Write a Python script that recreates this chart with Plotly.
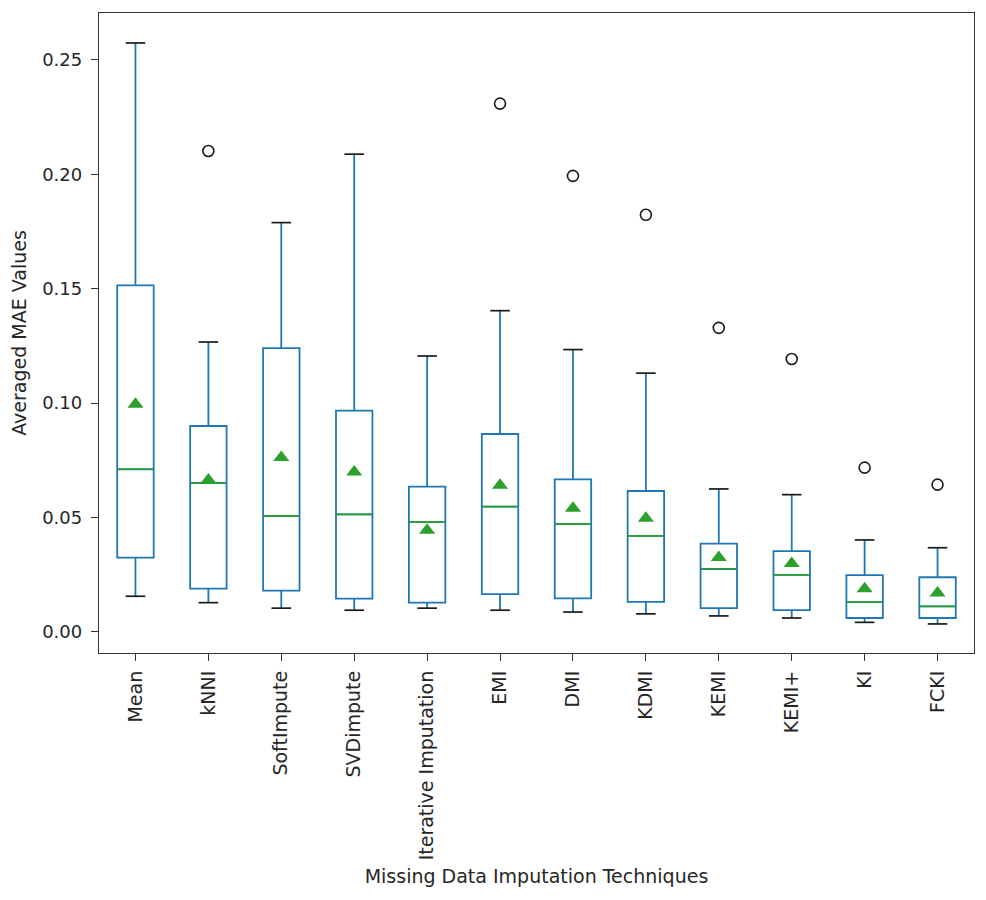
import plotly.graph_objects as go

# Estatísticas (MAE médio por técnica)
tecnicas = ["Mean", "kNNI", "SoftImpute", "SVDimpute", "Iterative Imputation",
            "EMI", "DMI", "KDMI", "KEMI", "KEMI+", "KI", "FCKI"]
limite_inferior = [0.0156, 0.0128, 0.0104, 0.0095, 0.0104, 0.0095,
                   0.0087, 0.0079, 0.0070, 0.0061, 0.0042, 0.0035]
quartil1 = [0.0325, 0.0189, 0.0181, 0.0146, 0.0128, 0.0165,
            0.0147, 0.0131, 0.0104, 0.0095, 0.0061, 0.0061]
mediana = [0.0711, 0.0651, 0.0506, 0.0514, 0.0481, 0.0548,
           0.0471, 0.0420, 0.0275, 0.0249, 0.0130, 0.0112]
quartil3 = [0.1515, 0.0900, 0.1240, 0.0967, 0.0635, 0.0865,
            0.0667, 0.0616, 0.0386, 0.0353, 0.0248, 0.0239]
limite_superior = [0.2574, 0.1267, 0.1789, 0.2088, 0.1206, 0.1404,
                   0.1234, 0.1131, 0.0625, 0.0600, 0.0402, 0.0368]
media = [0.0995, 0.0664, 0.0762, 0.0699, 0.0444, 0.0641,
         0.0541, 0.0497, 0.0325, 0.0299, 0.0189, 0.0170]
outliers_tecnica = ["kNNI", "EMI", "DMI", "KDMI", "KEMI", "KEMI+", "KI", "FCKI"]
outliers_valor = [0.2102, 0.2309, 0.1993, 0.1823, 0.1329, 0.1193, 0.0718, 0.0644]

AZUL = "#1f77b4"
VERDE = "#2ca02c"
FONTE = dict(family="DejaVu Sans", size=19, color="#262626")
FONTE_Y = dict(family="DejaVu Sans", size=18, color="#262626")

figura = go.Figure()

figura.add_trace(go.Box(
    x=tecnicas, q1=quartil1, median=mediana, q3=quartil3,
    lowerfence=limite_inferior, upperfence=limite_superior,
    width=0.5, whiskerwidth=0, boxpoints=False,
    line=dict(color=AZUL, width=1.8), fillcolor="rgba(0,0,0,0)",
    hoverinfo="skip", showlegend=False,
))

# linhas da mediana em verde, como no matplotlib
figura.add_trace(go.Scatter(
    x=tecnicas, y=mediana, mode="markers", showlegend=False,
    marker=dict(symbol="line-ew", size=25, line=dict(color=VERDE, width=1.7)),
))

# tampas dos bigodes em preto
figura.add_trace(go.Scatter(
    x=tecnicas + tecnicas, y=limite_inferior + limite_superior,
    mode="markers", showlegend=False,
    marker=dict(symbol="line-ew", size=14, line=dict(color="#1a1a1a", width=1.7)),
))

figura.add_trace(go.Scatter(
    x=tecnicas, y=media, mode="markers", showlegend=False,
    marker=dict(symbol="triangle-up", size=14, color=VERDE,
                line=dict(color=VERDE, width=0)),
))

figura.add_trace(go.Scatter(
    x=outliers_tecnica, y=outliers_valor, mode="markers", showlegend=False,
    marker=dict(symbol="circle-open", size=11, color="#1a1a1a",
                line=dict(color="#1a1a1a", width=1.6)),
))

eixo = dict(showline=True, linecolor="#333333", linewidth=1.3, mirror=True,
            ticks="outside", ticklen=7, tickwidth=1.2, tickcolor="#333333",
            showgrid=False, zeroline=False)

figura.update_layout(
    width=986, height=900, paper_bgcolor="white", plot_bgcolor="white",
    margin=dict(l=91, r=20, t=5, b=255),
    font=FONTE, boxmode="overlay",
    xaxis=dict(eixo, type="category", categoryorder="array", categoryarray=tecnicas,
               range=[-0.5, 11.5], tickangle=-90, ticklabelstandoff=2, tickfont=FONTE,
               title=dict(text="Missing Data Imputation Techniques", font=FONTE,
                          standoff=10)),
    yaxis=dict(eixo, range=[-0.0092, 0.2705], tickvals=[0, 0.05, 0.10, 0.15, 0.20, 0.25],
               tickformat=".2f", ticklabelstandoff=5, tickfont=FONTE_Y,
               title=dict(text="Averaged MAE Values", font=FONTE, standoff=14)),
)

figura.write_html("out.html")
